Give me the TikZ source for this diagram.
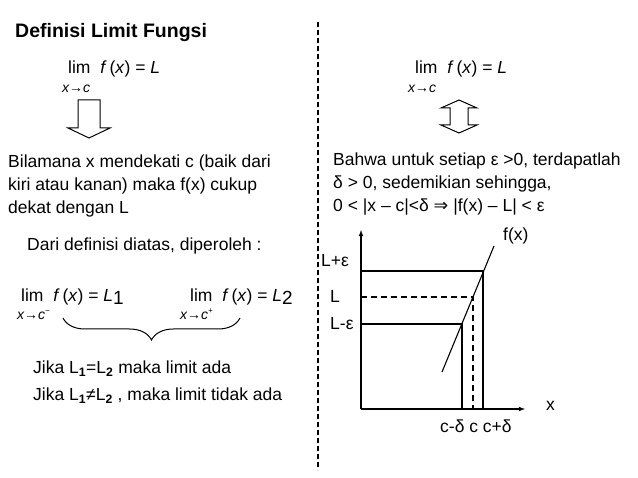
\documentclass[tikz,border=0pt]{standalone}
\usepackage{fontspec}
\setmainfont{Liberation Sans}
\newfontfamily\djv{DejaVu Sans}
\usetikzlibrary{decorations.pathreplacing}
\begin{document}
\begin{tikzpicture}[x=1pt,y=-1pt,
  txt/.style={anchor=base west,inner sep=0pt,font=\fontsize{17.5}{20}\selectfont},
  sub/.style={anchor=base west,inner sep=0pt,font=\fontsize{14}{16}\selectfont\itshape},
  ln/.style={line width=1.1pt}]
\useasboundingbox (0,0) rectangle (638,478);
\node[anchor=base west,inner sep=0pt,font=\fontsize{19.5}{22}\selectfont\bfseries] (title) at (15,38) {Definisi Limit Fungsi};
\draw[line width=1.3pt,dash pattern=on 5pt off 3pt] (318,22) coordinate (d1) -- (318,470) coordinate (d2);
% left limit
\node[txt] (lim1) at (68,74) {lim\ \ \textit{f}\,(\textit{x}) = \textit{L}};
\node[sub] (s1) at (62,93) {x→c};
\draw[line width=1pt] (78,100) -- (100,100) -- (100,128) -- (110,128) -- (89,138) -- (68,128) -- (78,128) -- cycle;
% right limit
\node[txt] (lim2) at (415,74) {lim\ \ \textit{f}\,(\textit{x}) = \textit{L}};
\node[sub] (s2) at (408,93) {x→c};
\draw[line width=1pt] (450,108) -- (441,108) -- (459,100) -- (477,108) -- (468,108) -- (468,125) -- (477,125) -- (459,133) -- (441,125) -- (450,125) -- cycle;
% left text
\node[txt] (p1) at (8,168) {Bilamana x mendekati c (baik dari};
\node[txt] (p2) at (8,191) {kiri atau kanan) maka f(x) cukup};
\node[txt] (p3) at (8,214) {dekat dengan L};
\node[txt] (p4) at (27,251) {Dari definisi diatas, diperoleh :};
\node[txt] (l1) at (21,302) {lim\ \ \textit{f}\,(\textit{x}) = \textit{L}\raisebox{-3pt}{\fontsize{19}{19}\selectfont 1}};
\node[sub] (t1) at (17,320) {x→c\raisebox{6pt}{\fontsize{8}{8}\selectfont −}};
\node[txt] (l2) at (190,302) {lim\ \ \textit{f}\,(\textit{x}) = \textit{L}\raisebox{-3pt}{\fontsize{19}{19}\selectfont 2}};
\node[sub] (t2) at (180,320) {x→c\raisebox{6pt}{\fontsize{8}{8}\selectfont +}};
\draw[line width=1pt,decorate,decoration={brace,mirror,amplitude=22pt,aspect=0.5}] (63,318) -- (240,318);
\node[txt] (j1) at (33,374) {Jika L\textsubscript{\bfseries 1}=L\textsubscript{\bfseries 2} maka limit ada};
\node[txt] (j2) at (33,401) {Jika L\textsubscript{\bfseries 1}≠L\textsubscript{\bfseries 2} , maka limit tidak ada};
% right text
\node[txt] (q1) at (333,166) {Bahwa untuk setiap ε >0, terdapatlah};
\node[txt] (q2) at (333,189) {δ > 0, sedemikian sehingga,};
\node[txt] (q3) at (333,212) {0 < |x – c|<δ {\djv ⇒} |f(x) – L| < ε};
% graph
\coordinate (o) at (361,409);
\draw[ln,-latex] (o) -- (361,230);
\draw[ln,-latex] (o) -- (525,409);
\draw[ln] (442,372) -- (494,246);
\draw[ln] (361,271) -- (483,271) -- (483,409);
\draw[ln] (361,324) -- (462,324) -- (462,409);
\draw[ln,dash pattern=on 6pt off 4pt] (361,297) -- (473,297) -- (473,409);
\node[txt] (lpe) at (321,267) {L+ε};
\node[txt] (lL) at (330,303) {L};
\node[txt] (lme) at (330,330) {L-ε};
\node[txt] (fx) at (503,241) {f(x)};
\node[txt] (xl) at (546,411) {x};
\node[txt] (cl) at (440,433) {c-δ c c+δ};
\end{tikzpicture}
\end{document}
